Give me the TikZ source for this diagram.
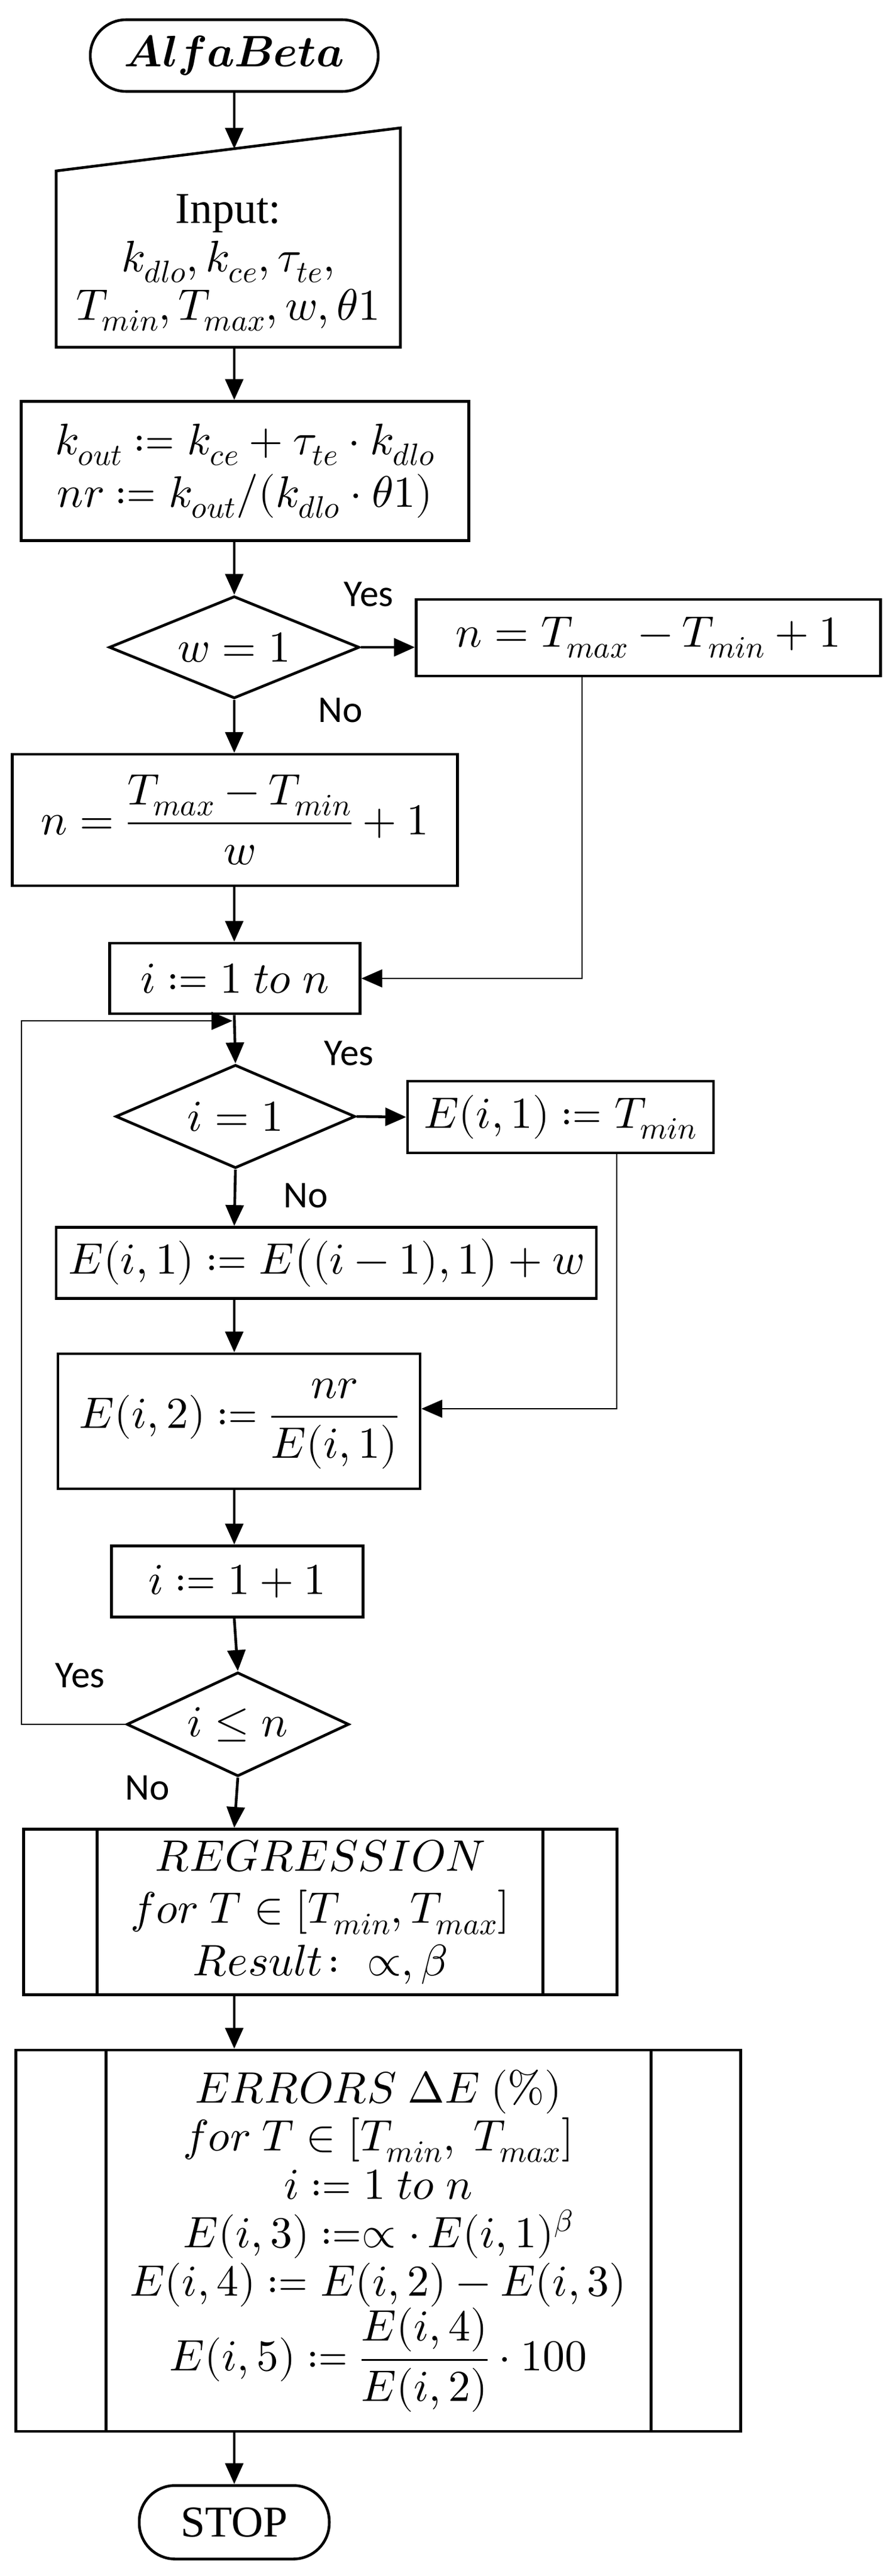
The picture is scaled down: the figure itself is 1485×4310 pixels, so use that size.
\documentclass[tikz,border=0pt]{standalone}
\usepackage{amsmath}
\usepackage{mathtools}
\usepackage{fontspec}
\usepackage{unicode-math}
\setmainfont{Liberation Serif}
\setmathfont{Latin Modern Math}
\newfontfamily\labfont{Carlito}
\usetikzlibrary{shapes.geometric,arrows.meta,calc}

\tikzset{
  base/.style={draw, line width=2.6pt, align=center, inner sep=0pt,
    font=\fontsize{42}{50}\selectfont},
  proc/.style={base, rectangle},
  dec/.style={base, diamond, aspect=2.4},
  term/.style={base, rectangle, rounded corners=1.2cm},
  arr/.style={line width=2.6pt, -{Triangle[length=0.7cm,width=0.6cm]}},
  thinarr/.style={line width=1.2pt, -{Triangle[length=0.7cm,width=0.6cm]}},
  lab/.style={font=\labfont\fontsize{36}{40}\selectfont},
}

\begin{document}
\begin{tikzpicture}[x=0.02cm, y=-0.02cm]
        \useasboundingbox (0,0) rectangle (1485,4310);
        \coordinate (ax) at (392,0);

        % Start and input
        \node[term, minimum width=9.64cm, minimum height=2.4cm] (start) at (392,93) {$\symbfit{AlfaBeta}$};
        \node[align=center, font=\fontsize{42}{46}\selectfont] (inp) at (382,440)
          {Input:\\ $k_{dlo}, k_{ce}, \tau_{te},$\\ $T_{min}, T_{max}, w, \theta 1$};
        \draw[line width=2.6pt] (94,286) -- (670,214) -- (670,581) -- (94,581) -- cycle;
        \coordinate (inTop) at (392,249);
        \coordinate (inBot) at (392,581);

        % Processing
        \node[proc, minimum width=14.98cm, minimum height=4.66cm] (kout) at (410,788)
          {$k_{out} \coloneqq k_{ce} + \tau_{te}\cdot k_{dlo}$\\ $nr \coloneqq k_{out}/(k_{dlo}\cdot\theta 1)$};
        \node[dec, minimum width=8.38cm, minimum height=3.42cm] (dw) at (392,1083) {$w = 1$};
        \node[proc, minimum width=15.54cm, minimum height=2.56cm] (nyes) at (1085,1067)
          {$n = T_{max} - T_{min} + 1$};
        \node[proc, minimum width=14.9cm, minimum height=4.4cm] (nno) at (393,1372)
          {$n = \dfrac{T_{max} - T_{min}}{w} + 1$};
        \node[proc, minimum width=8.38cm, minimum height=2.36cm] (loop) at (393,1637)
          {$i \coloneqq 1\ to\ n$};

        % Loop body
        \node[dec, minimum width=8.02cm, minimum height=3.46cm] (di) at (394,1868) {$i = 1$};
        \node[proc, minimum width=10.24cm, minimum height=2.4cm] (etmin) at (938,1869)
          {$E(i,1) \coloneqq T_{min}$};
        \node[proc, minimum width=18.08cm, minimum height=2.38cm] (eone) at (546,2113)
          {$E(i,1) \coloneqq E\big((i-1),1\big) + w$};
        \node[proc, minimum width=12.12cm, minimum height=4.52cm, text depth=1.2cm] (etwo) at (400,2378)
          {$E(i,2) \coloneqq \dfrac{nr}{E(i,1)}$};
        \node[proc, minimum width=8.42cm, minimum height=2.38cm] (inc) at (397,2646)
          {$i \coloneqq 1 + 1$};
        \node[dec, minimum width=7.44cm, minimum height=3.48cm] (dn) at (398,2885) {$i \le n$};

        % Subroutines
        \node[proc, minimum width=19.86cm, minimum height=5.54cm] (reg) at (536,3199)
          {$REGRESSION$\\ $for\ T \in [T_{min}, T_{max}]$\\ $Result\colon \propto, \beta$};
        \draw[line width=2.6pt] ($(reg.north west)+(125,0)$) -- ($(reg.south west)+(125,0)$);
        \draw[line width=2.6pt] ($(reg.north east)+(-126,0)$) -- ($(reg.south east)+(-126,0)$);
        \node[proc, minimum width=24.26cm, minimum height=12.76cm, font=\fontsize{42}{46}\selectfont] (err) at (633,3749)
          {$ERRORS\ \Delta E\ (\%)$\\ $for\ T \in [T_{min},\ T_{max}]$\\ $i \coloneqq 1\ to\ n$\\
           $E(i,3) \coloneqq \propto\cdot\, E(i,1)^{\beta}$\\ $E(i,4) \coloneqq E(i,2) - E(i,3)$\\
           $E(i,5) \coloneqq \dfrac{E(i,4)}{E(i,2)}\cdot 100$};
        \draw[line width=2.6pt] ($(err.north west)+(153,0)$) -- ($(err.south west)+(153,0)$);
        \draw[line width=2.6pt] ($(err.north east)+(-152,0)$) -- ($(err.south east)+(-152,0)$);
        \node[term, minimum width=6.36cm, minimum height=2.46cm] (stop) at (392,4220) {STOP};

        % Main flow
        \draw[arr] (start.south -| ax) -- (inTop);
        \draw[arr] (inBot) -- (kout.north -| ax);
        \draw[arr] (kout.south -| ax) -- (dw.north);
        \draw[arr] (dw.east) -- (nyes.west |- dw.east);
        \draw[arr] (dw.south) -- (nno.north -| ax);
        \draw[arr] (nno.south -| ax) -- (loop.north -| ax);
        \draw[thinarr] (nyes.south -| 974,0) |- (loop.east);
        \draw[arr] (loop.south -| ax) -- (di.north);
        \draw[arr] (di.east) -- (etmin.west);
        \draw[arr] (di.south) -- (eone.north -| ax);
        \draw[arr] (eone.south -| ax) -- (etwo.north -| ax);
        \draw[thinarr] (etmin.south -| 1032,0) |- (etwo.east |- 0,2357);
        \draw[arr] (etwo.south -| ax) -- (inc.north -| ax);
        \draw[arr] (inc.south -| ax) -- (dn.north);
        \coordinate (back) at (389,1708);
        \draw[thinarr] (dn.west) -| (36,1708) -- (back);
        \draw[arr] (dn.south) -- (reg.north -| ax);
        \draw[arr] (reg.south -| ax) -- (err.north -| ax);
        \draw[arr] (err.south -| ax) -- (stop.north);

        % Labels
        \node[lab] (y1) at (617,994) {Yes};
        \node[lab] (n1) at (570,1188) {No};
        \node[lab] (y2) at (584,1762) {Yes};
        \node[lab] (n2) at (512,2000) {No};
        \node[lab] (y3) at (134,2803) {Yes};
        \node[lab] (n3) at (247,2991) {No};
\end{tikzpicture}
\end{document}
